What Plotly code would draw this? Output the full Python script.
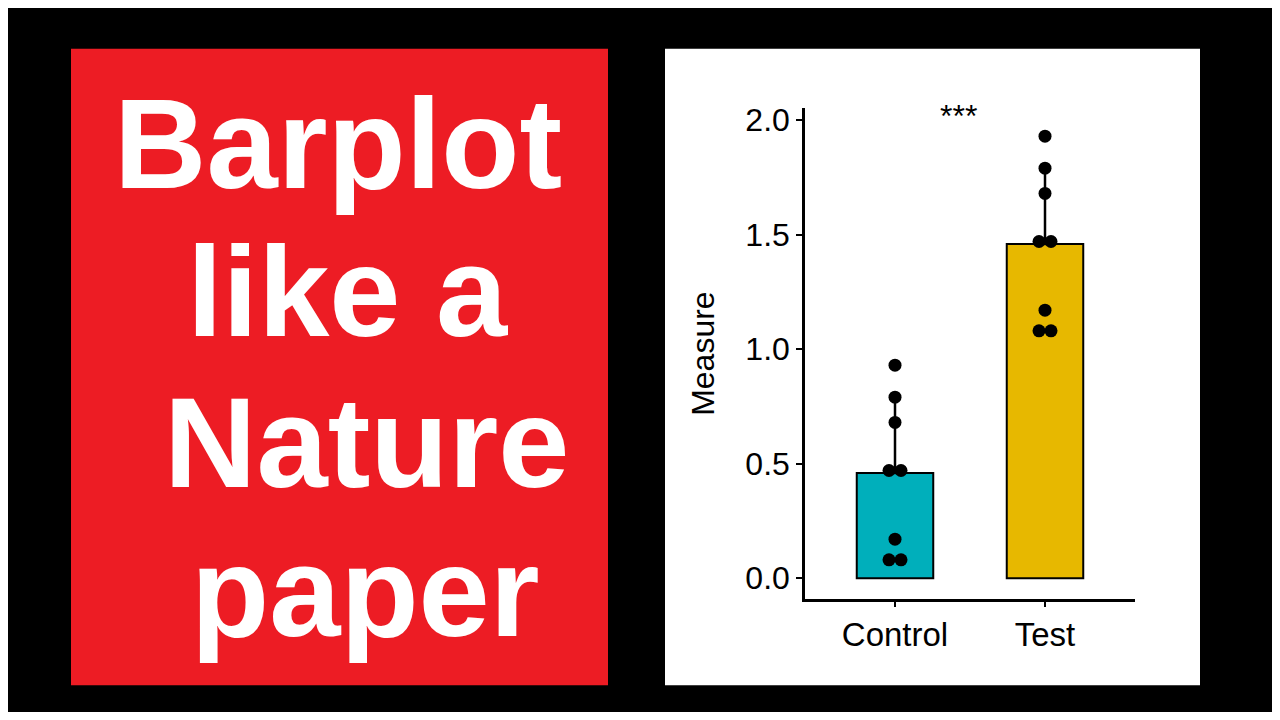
import numpy as np
import plotly.graph_objects as go

groups = ["Control", "Test"]
control_vals = [0.93, 0.79, 0.68, 0.47, 0.47, 0.17, 0.08, 0.08]
test_vals = [1.93, 1.79, 1.68, 1.47, 1.47, 1.17, 1.08, 1.08]
bar_colors = ["#00AFBB", "#E7B800"]
y_ticks = [0.0, 0.5, 1.0, 1.5, 2.0]
sig_label = "***"
title_lines = ["Barplot", "like a", " Nature", "paper"]

# page has an 8px body margin, keep the figure inside the 1280x720 window
OFF = 8
W, H = 1280 - 2 * OFF, 720 - 2 * OFF
FONT = "Liberation Sans, Arial, sans-serif"


def px(x):
    return (x - OFF) / W


def py(y):
    return 1 - (y - OFF) / H


def spread(vals, step=0.04):
    # side-by-side offsets for repeated values (dotplot look)
    out = []
    seen = {}
    for v in vals:
        n = vals.count(v)
        i = seen.get(v, 0)
        seen[v] = i + 1
        out.append((i - (n - 1) / 2) * 2 * step if n > 1 else 0.0)
    return out


data = [control_vals, test_vals]
means = [np.mean(d) for d in data]
sds = [np.std(d, ddof=1) for d in data]

fig = go.Figure()

fig.add_trace(go.Bar(
    x=list(range(len(groups))), y=means, width=0.51,
    marker=dict(color=bar_colors, line=dict(color="black", width=2)),
    error_y=dict(type="data", symmetric=False, array=sds,
                 arrayminus=[0] * len(sds), color="black",
                 thickness=2.5, width=5),
    showlegend=False,
))

for gi, d in enumerate(data):
    xs = [gi + o for o in spread(d)]
    fig.add_trace(go.Scatter(
        x=xs, y=d, mode="markers",
        marker=dict(color="black", size=13),
        showlegend=False, cliponaxis=False,
    ))

shapes = [
    dict(type="rect", xref="paper", yref="paper", layer="below",
         x0=px(71), x1=px(608), y0=py(685), y1=py(43),
         fillcolor="#ED1C24", line=dict(width=0)),
    dict(type="rect", xref="paper", yref="paper", layer="below",
         x0=px(665), x1=px(1200), y0=py(685), y1=py(43),
         fillcolor="white", line=dict(width=0)),
]

title_x = [338, 347, 366, 365]
title_y = [139, 288, 440, 590]
annotations = []
for t, xx, yy in zip(title_lines, title_x, title_y):
    annotations.append(dict(
        text=t.strip(),
        xref="paper", yref="paper", x=px(xx), y=py(yy),
        xanchor="center", yanchor="middle", showarrow=False,
        font=dict(family=FONT, size=128, color="white", weight="bold"),
    ))

annotations.append(dict(
    text=sig_label, xref="x", yref="y", x=0.42, y=2.02,
    xanchor="center", yanchor="middle", showarrow=False,
    font=dict(family=FONT, size=32, color="black"),
))

fig.update_layout(
    width=W, height=H,
    margin=dict(l=0, r=0, t=0, b=0),
    paper_bgcolor="black", plot_bgcolor="white",
    shapes=shapes, annotations=annotations,
    font=dict(family=FONT, size=32, color="black"),
    xaxis=dict(
        domain=[px(805), px(1135)], range=[-0.6, 1.6],
        tickvals=list(range(len(groups))), ticktext=groups,
        showline=True, linecolor="black", linewidth=2.5,
        ticks="outside", ticklen=5, tickwidth=2, tickcolor="black",
        showgrid=False, zeroline=False,
        tickfont=dict(family=FONT, size=33, color="black"),
    ),
    yaxis=dict(
        domain=[py(598), py(103)], range=[-0.091, 2.052],
        tickvals=y_ticks, ticktext=[f"{v:.1f}" for v in y_ticks],
        showline=True, linecolor="black", linewidth=2.5,
        ticks="outside", ticklen=6, tickwidth=2, tickcolor="black",
        showgrid=False, zeroline=False,
        tickfont=dict(family=FONT, size=32, color="black"),
        title=dict(text="Measure", standoff=22,
                   font=dict(family=FONT, size=32, color="black")),
    ),
)

fig.write_html("out.html")
